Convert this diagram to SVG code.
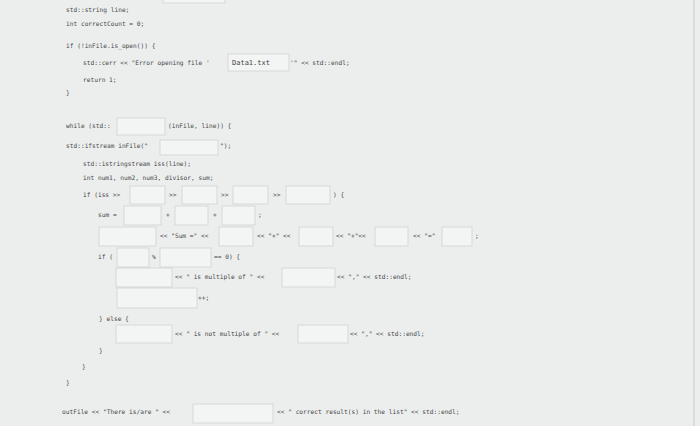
<svg xmlns="http://www.w3.org/2000/svg" width="700" height="426" viewBox="0 0 700 426">
<style>
text{font-family:"DejaVu Sans Mono","Liberation Mono",monospace;font-size:6.2px;fill:#474747}
.b{fill:#f3f4f4;stroke:#cdd1d4;stroke-width:0.8}
.v{font-family:"DejaVu Sans Mono",monospace;font-size:7px;fill:#444}
</style>
<rect width="700" height="426" fill="#eceeee"/>
<line x1="694" y1="0" x2="694" y2="426" stroke="#c8cbcc"/>
<g id="boxes">
<rect class="b" x="163" y="-5" width="62" height="8"/>
<rect class="b" x="228" y="54" width="61" height="17"/>
<rect class="b" x="117" y="118" width="48" height="17"/>
<rect class="b" x="160" y="140" width="58" height="15"/>
<rect class="b" x="130" y="186" width="35" height="18"/>
<rect class="b" x="182" y="186" width="35" height="18"/>
<rect class="b" x="233" y="186" width="35" height="18"/>
<rect class="b" x="286" y="186" width="44" height="18"/>
<rect class="b" x="124" y="206" width="37" height="19"/>
<rect class="b" x="175" y="206" width="33" height="19"/>
<rect class="b" x="222" y="206" width="33" height="19"/>
<rect class="b" x="99" y="227" width="57" height="19"/>
<rect class="b" x="219" y="227" width="34" height="19"/>
<rect class="b" x="299" y="227" width="34" height="19"/>
<rect class="b" x="375" y="227" width="33" height="19"/>
<rect class="b" x="442" y="227" width="30" height="19"/>
<rect class="b" x="117" y="248" width="32" height="19"/>
<rect class="b" x="160" y="248" width="51" height="19"/>
<rect class="b" x="116" y="268" width="56" height="19"/>
<rect class="b" x="282" y="268" width="53" height="19"/>
<rect class="b" x="117" y="288" width="80" height="20"/>
<rect class="b" x="116" y="325" width="56" height="18"/>
<rect class="b" x="298" y="325" width="50" height="18"/>
<rect class="b" x="193" y="404" width="80" height="19"/>
</g>
<g id="code">
<text x="66" y="12">std::string line;</text>
<text x="66" y="26">int correctCount = 0;</text>
<text x="66" y="48">if (!inFile.is_open()) {</text>
<text x="83" y="65">std::cerr &lt;&lt; "Error opening file '</text>
<text class="v" x="232" y="65">Data1.txt</text>
<text x="290" y="65">'" &lt;&lt; std::endl;</text>
<text x="83" y="82">return 1;</text>
<text x="66" y="95">}</text>
<text x="66" y="128">while (std::</text>
<text x="168" y="128">(inFile, line)) {</text>
<text x="66" y="148">std::ifstream inFile("</text>
<text x="220" y="148">");</text>
<text x="83" y="166">std::istringstream iss(line);</text>
<text x="83" y="180">int num1, num2, num3, divisor, sum;</text>
<text x="83" y="197">if (iss &gt;&gt;</text>
<text x="169" y="197">&gt;&gt;</text>
<text x="221" y="197">&gt;&gt;</text>
<text x="273" y="197">&gt;&gt;</text>
<text x="333" y="197">) {</text>
<text x="98" y="217">sum =</text>
<text x="166" y="217">+</text>
<text x="213" y="217">+</text>
<text x="258" y="217">;</text>
<text x="160" y="238">&lt;&lt; "Sum =" &lt;&lt;</text>
<text x="257" y="238">&lt;&lt; "+" &lt;&lt;</text>
<text x="336" y="238">&lt;&lt; "+"&lt;&lt;</text>
<text x="413" y="238">&lt;&lt; "="</text>
<text x="475" y="238">;</text>
<text x="98" y="259">if (</text>
<text x="152" y="259">%</text>
<text x="214" y="259">== 0) {</text>
<text x="175" y="279">&lt;&lt; " is multiple of " &lt;&lt;</text>
<text x="337" y="279">&lt;&lt; "," &lt;&lt; std::endl;</text>
<text x="198" y="300">++;</text>
<text x="99" y="321">} else {</text>
<text x="175" y="336">&lt;&lt; " is not multiple of " &lt;&lt;</text>
<text x="350" y="336">&lt;&lt; "," &lt;&lt; std::endl;</text>
<text x="99" y="353">}</text>
<text x="82" y="369">}</text>
<text x="66" y="385">}</text>
<text x="62" y="414">outFile &lt;&lt; "There is/are " &lt;&lt;</text>
<text x="277" y="414">&lt;&lt; " correct result(s) in the list" &lt;&lt; std::endl;</text>
</g>
</svg>
